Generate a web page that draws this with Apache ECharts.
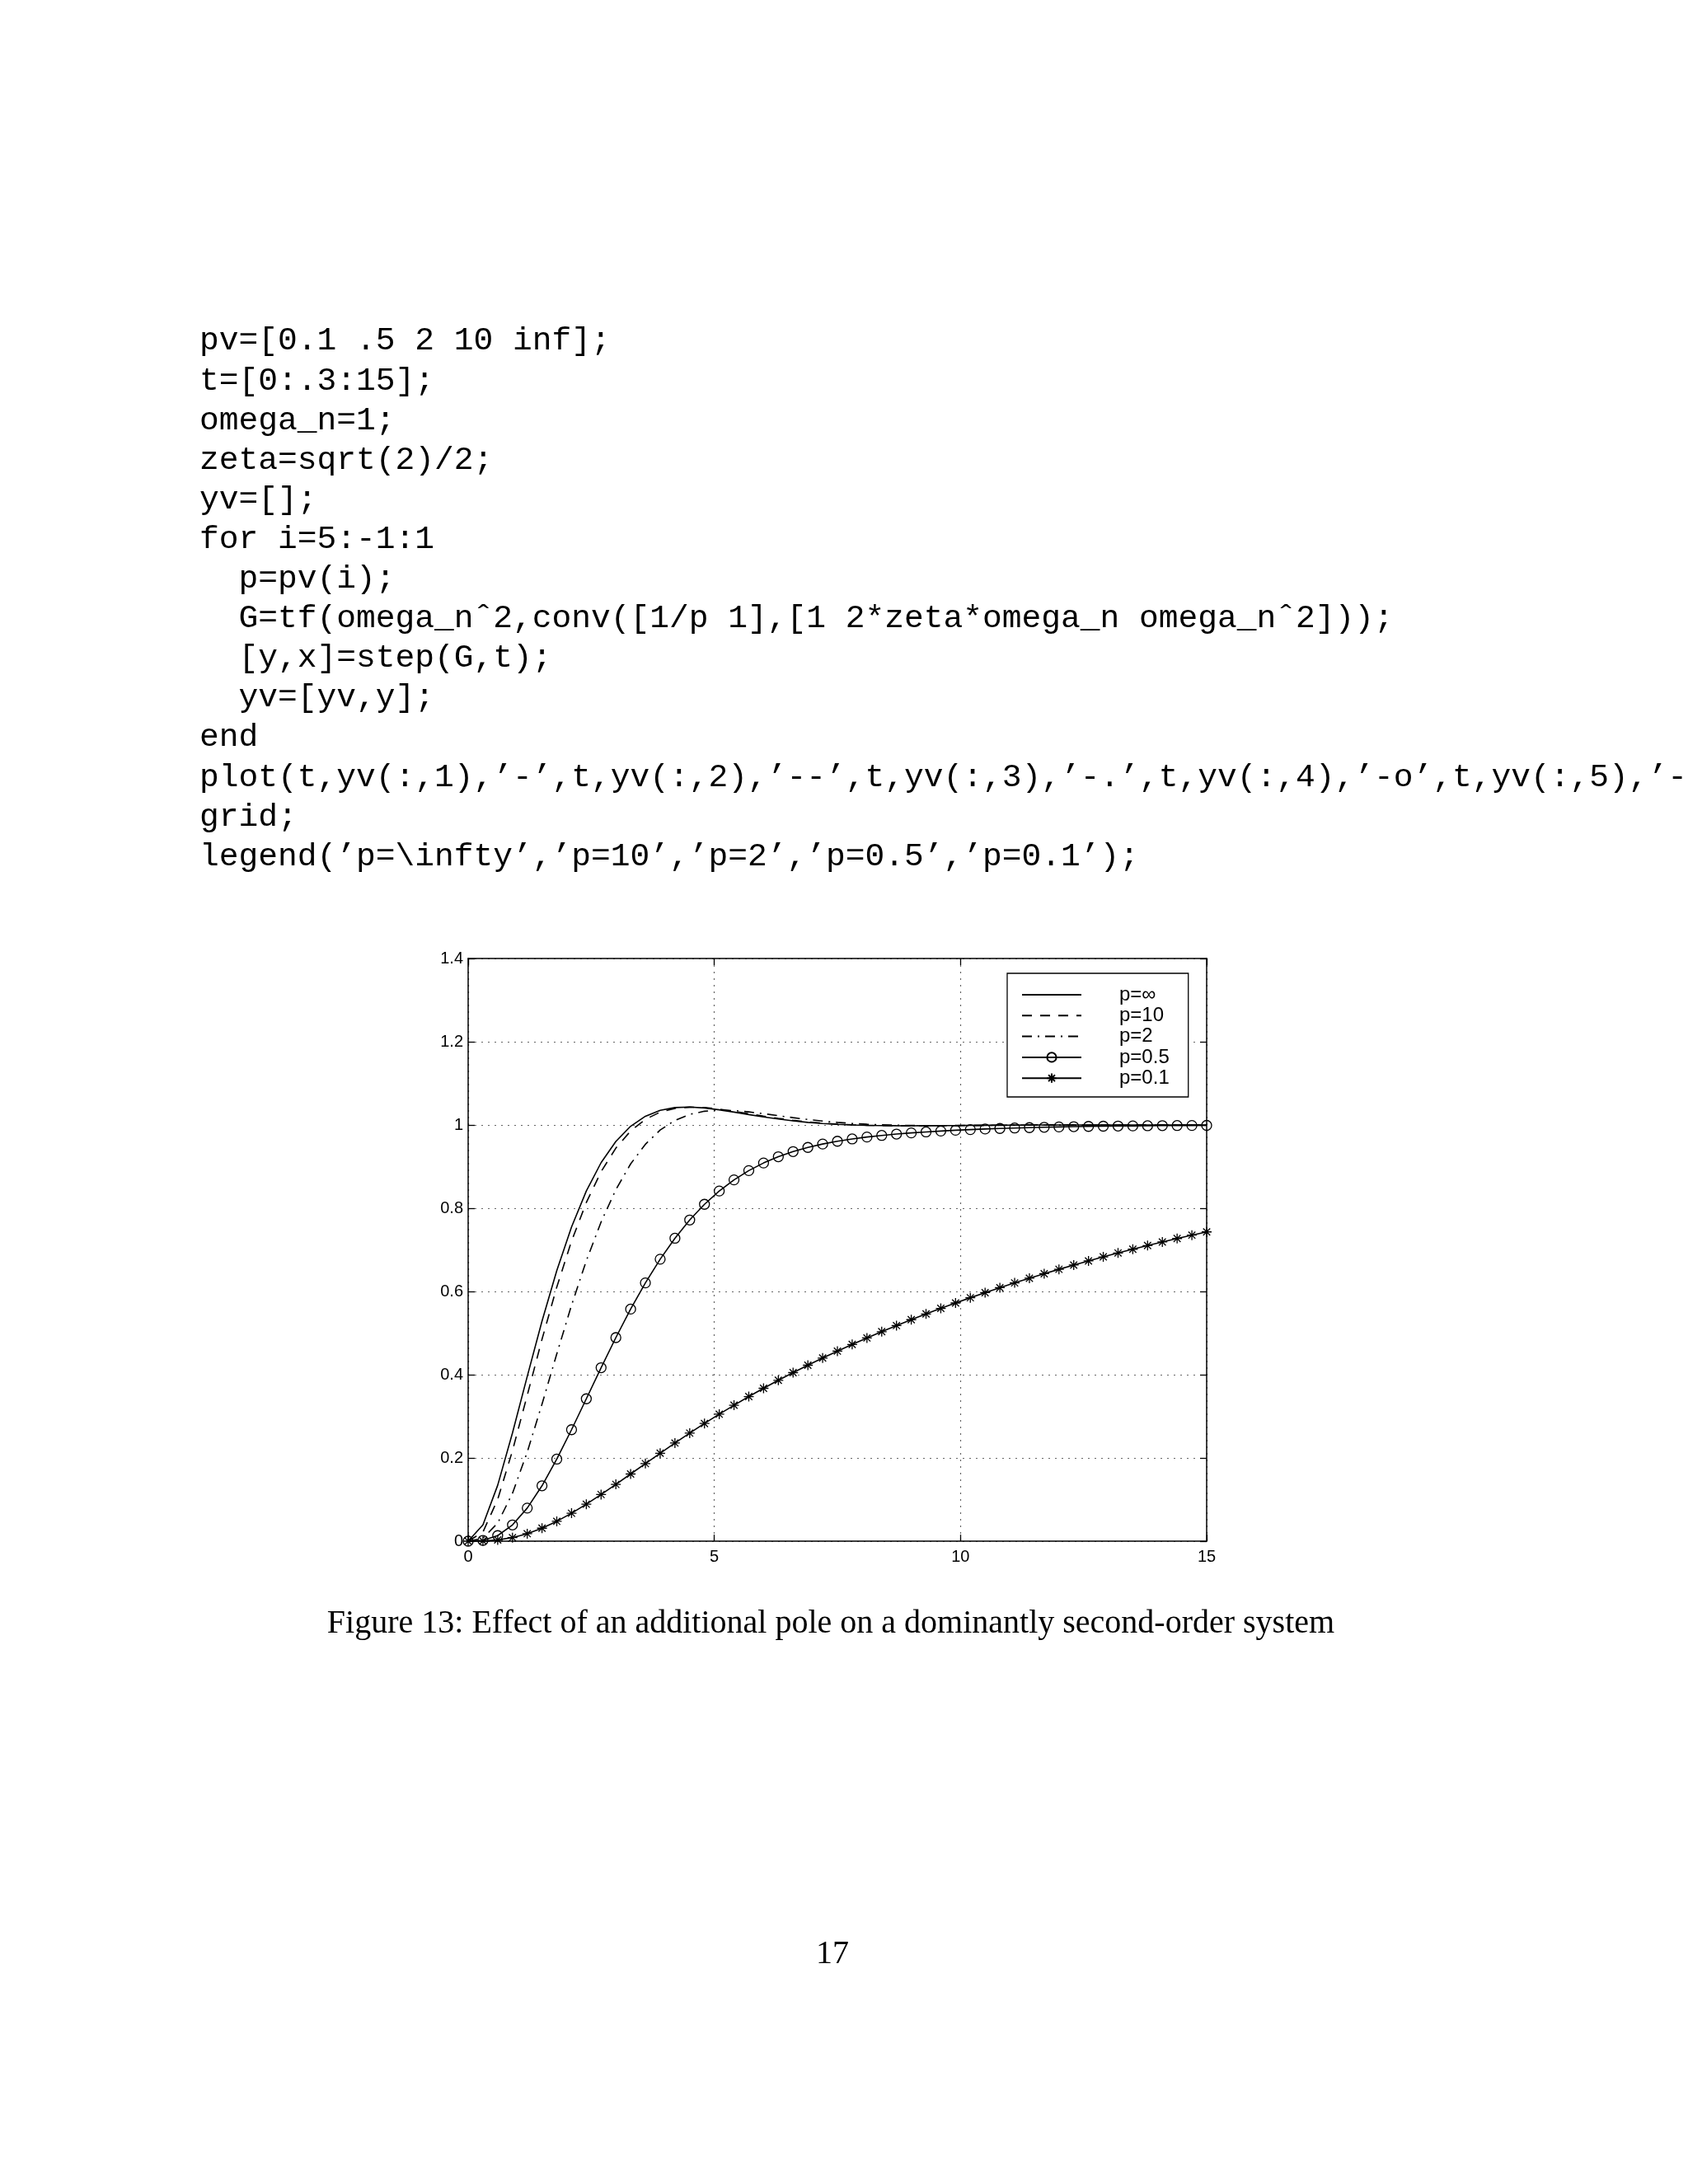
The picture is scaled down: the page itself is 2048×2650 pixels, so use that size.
<!DOCTYPE html>
<html>
<head>
<meta charset="utf-8">
<script src="https://cdn.jsdelivr.net/npm/echarts@6/dist/echarts.min.js"></script>
<style>
html,body{margin:0;padding:0;background:#fff;}
#c{width:2048px;height:2650px;}
</style>
</head>
<body>
<div id="c"></div>
<script>
// time samples t = 0:0.3:15
const t = [0,0.3,0.6,0.9,1.2,1.5,1.8,2.1,2.4,2.7,3,3.3,3.6,3.9,4.2,4.5,4.8,5.1,5.4,5.7,6,6.3,6.6,6.9,7.2,7.5,7.8,8.1,8.4,8.7,9,9.3,9.6,9.9,10.2,10.5,10.8,11.1,11.4,11.7,12,12.3,12.6,12.9,13.2,13.5,13.8,14.1,14.4,14.7,15];

// step responses read for each extra-pole location
const yInf = [0,0.0390,0.1344,0.2599,0.3958,0.5288,0.6501,0.7549,0.8413,0.9094,0.9605,0.9969,1.0209,1.0351,1.0418,1.0431,1.0409,1.0364,1.0309,1.0250,1.0193,1.0142,1.0098,1.0062,1.0034,1.0014,0.9999,0.9990,0.9984,0.9982,0.9981,0.9983,0.9985,0.9987,0.9990,0.9992,0.9994,0.9996,0.9998,0.9999,0.9999,1.0000,1.0000,1.0000,1.0000,1.0000,1.0000,1.0000,1.0000,1.0000,1.0000];
const y10 = [0,0.0217,0.1005,0.2172,0.3505,0.4850,0.6105,0.7210,0.8135,0.8877,0.9444,0.9855,1.0135,1.0308,1.0399,1.0429,1.0418,1.0380,1.0328,1.0270,1.0212,1.0159,1.0112,1.0074,1.0043,1.0020,1.0004,0.9992,0.9986,0.9982,0.9981,0.9982,0.9984,0.9986,0.9989,0.9991,0.9994,0.9996,0.9997,0.9998,0.9999,1.0000,1.0000,1.0000,1.0000,1.0000,1.0000,1.0000,1.0000,1.0000,1.0000];
const y2 = [0,0.0070,0.0435,0.1150,0.2140,0.3293,0.4499,0.5669,0.6738,0.7669,0.8445,0.9064,0.9536,0.9878,1.0110,1.0254,1.0330,1.0355,1.0346,1.0314,1.0271,1.0223,1.0175,1.0131,1.0093,1.0061,1.0036,1.0017,1.0003,0.9994,0.9988,0.9985,0.9985,0.9985,0.9987,0.9989,0.9991,0.9993,0.9995,0.9996,0.9998,0.9999,0.9999,1.0000,1.0000,1.0000,1.0000,1.0000,1.0000,1.0000,1.0000];
const y05 = [0,0.0019,0.0134,0.0390,0.0795,0.1331,0.1971,0.2678,0.3421,0.4167,0.4891,0.5576,0.6206,0.6775,0.7278,0.7717,0.8094,0.8413,0.8681,0.8904,0.9087,0.9237,0.9360,0.9460,0.9542,0.9609,0.9664,0.9710,0.9749,0.9781,0.9809,0.9833,0.9854,0.9873,0.9889,0.9903,0.9916,0.9927,0.9936,0.9945,0.9953,0.9959,0.9965,0.9970,0.9974,0.9978,0.9981,0.9984,0.9986,0.9988,0.9990];
const y01 = [0,0.0004,0.0029,0.0086,0.0180,0.0312,0.0477,0.0671,0.0888,0.1121,0.1364,0.1614,0.1864,0.2113,0.2358,0.2596,0.2828,0.3051,0.3266,0.3474,0.3673,0.3865,0.4050,0.4228,0.4400,0.4566,0.4727,0.4883,0.5034,0.5180,0.5322,0.5459,0.5593,0.5723,0.5849,0.5971,0.6090,0.6206,0.6318,0.6427,0.6532,0.6635,0.6734,0.6831,0.6924,0.7015,0.7103,0.7189,0.7272,0.7353,0.7431];

const seriesNames = ['p=\u221E','p=10','p=2','p=0.5','p=0.1'];

const codeLines = [
  'pv=[0.1 .5 2 10 inf];',
  't=[0:.3:15];',
  'omega_n=1;',
  'zeta=sqrt(2)/2;',
  'yv=[];',
  'for i=5:-1:1',
  '  p=pv(i);',
  '  G=tf(omega_n\u02C62,conv([1/p 1],[1 2*zeta*omega_n omega_n\u02C62]));',
  '  [y,x]=step(G,t);',
  '  yv=[yv,y];',
  'end',
  'plot(t,yv(:,1),\u2019-\u2019,t,yv(:,2),\u2019--\u2019,t,yv(:,3),\u2019-.\u2019,t,yv(:,4),\u2019-o\u2019,t,yv(:,5),\u2019-*\u2019);',
  'grid;',
  'legend(\u2019p=\\infty\u2019,\u2019p=10\u2019,\u2019p=2\u2019,\u2019p=0.5\u2019,\u2019p=0.1\u2019);'
];
const captionText = 'Figure 13: Effect of an additional pole on a dominantly second-order system';
const pageNumber = '17';

function pairs(ys){ return t.map(function(x,i){ return [x, ys[i]]; }); }

const chart = echarts.init(document.getElementById('c'), null, {renderer:'canvas', width:2048, height:2650});

const tickFont = {color:'#000', fontFamily:'Liberation Sans', fontSize:20};
const frameLine = {show:true, onZero:false, lineStyle:{color:'#000', width:1.5}};
const frameTick = {show:true, inside:true, length:8, lineStyle:{color:'#000', width:1.3}};
const gridDots = {show:true, lineStyle:{color:'#666', width:1.2, type:[2,6]}};

const asterisk = 'path://M6 0L6 12M0 6L12 6M1.76 1.76L10.24 10.24M1.76 10.24L10.24 1.76';
const lineW = 1.6;

const graphics = codeLines.map(function(s,i){
  return {type:'text', x:242, y:414 + 48.1*i, silent:true,
    style:{text:s, fontFamily:'Liberation Mono', fontSize:39.6, fill:'#000', verticalAlign:'middle', textAlign:'left'}};
});
graphics.push({type:'text', x:1008, y:1970, silent:true,
  style:{text:captionText, fontFamily:'Liberation Serif', fontSize:40, fill:'#000', verticalAlign:'middle', textAlign:'center'}});
graphics.push({type:'text', x:1010, y:2371, silent:true,
  style:{text:pageNumber, fontFamily:'Liberation Serif', fontSize:40, fill:'#000', verticalAlign:'middle', textAlign:'center'}});

const option = {
  backgroundColor:'#fff',
  animation:false,
  grid:{left:568, top:1163, width:896, height:707, containLabel:false},
  xAxis:[
    {type:'value', min:0, max:15, interval:5, position:'bottom',
     axisLine:frameLine, axisTick:frameTick,
     axisLabel:Object.assign({margin:9}, tickFont),
     splitLine:gridDots},
    {type:'value', min:0, max:15, interval:5, position:'top',
     axisLine:frameLine, axisTick:frameTick, axisLabel:{show:false}, splitLine:{show:false}}
  ],
  yAxis:[
    {type:'value', min:0, max:1.4, interval:0.2, position:'left',
     axisLine:frameLine, axisTick:frameTick,
     axisLabel:Object.assign({margin:6}, tickFont),
     splitLine:gridDots},
    {type:'value', min:0, max:1.4, interval:0.2, position:'right',
     axisLine:frameLine, axisTick:frameTick, axisLabel:{show:false}, splitLine:{show:false}}
  ],
  legend:{
    orient:'vertical', left:1222, top:1181,
    data:seriesNames.map(function(n,i){ return i<3 ? {name:n, itemStyle:{opacity:0}} : {name:n}; }),
    itemWidth:72, itemHeight:14, itemGap:1.3,
    padding:[14,23,10.8,17],
    backgroundColor:'#fff', borderColor:'#000', borderWidth:1.3, borderRadius:0,
    selectedMode:false,
    textStyle:{fontFamily:'Liberation Sans', fontSize:24, color:'#000', lineHeight:24, padding:[0,0,0,41]}
  },
  graphic:graphics,
  series:[
    {name:seriesNames[0], type:'line', data:pairs(yInf), symbol:'none', clip:false,
     itemStyle:{color:'#000'}, lineStyle:{color:'#000', width:lineW, type:'solid'}},
    {name:seriesNames[1], type:'line', data:pairs(y10), symbol:'none', clip:false,
     itemStyle:{color:'#000'}, lineStyle:{color:'#000', width:lineW, type:[12,10]}},
    {name:seriesNames[2], type:'line', data:pairs(y2), symbol:'none', clip:false,
     itemStyle:{color:'#000'}, lineStyle:{color:'#000', width:lineW, type:[12,7,2,7]}},
    {name:seriesNames[3], type:'line', data:pairs(y05), symbol:'circle', symbolSize:12, showSymbol:true, showAllSymbol:true, clip:false,
     itemStyle:{color:'transparent', borderColor:'#000', borderWidth:1.3}, lineStyle:{color:'#000', width:lineW}},
    {name:seriesNames[4], type:'line', data:pairs(y01), symbol:asterisk, symbolSize:12, symbolKeepAspect:true, showSymbol:true, showAllSymbol:true, clip:false,
     itemStyle:{color:'#000', borderColor:'#000', borderWidth:1.3}, lineStyle:{color:'#000', width:lineW}}
  ]
};
chart.setOption(option);
</script>
</body>
</html>
